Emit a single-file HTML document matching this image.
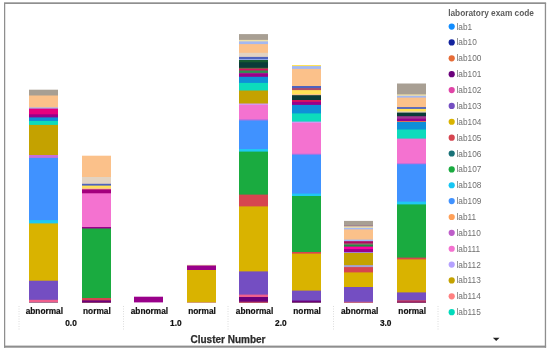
<!DOCTYPE html>
<html><head><meta charset="utf-8"><title>Cluster Number chart</title>
<style>
html,body{margin:0;padding:0;background:#fff;}
body{width:550px;height:351px;position:relative;overflow:hidden;font-family:"Liberation Sans",sans-serif;}
.frame{position:absolute;left:4px;top:2px;width:539.6px;height:341.8px;border-style:solid;border-color:#9a9a9a;border-width:1.9px 1.3px 2px 1.2px;box-sizing:content-box;}
svg{position:absolute;left:0;top:0;}
.li{position:absolute;left:456.5px;font-size:8.3px;line-height:11px;color:#707070;white-space:nowrap;}
.lt{position:absolute;left:448.2px;top:7.9px;font-size:8.3px;line-height:11px;font-weight:bold;color:#5c5c5c;white-space:nowrap;}
.cat{position:absolute;top:305.9px;width:60px;text-align:center;font-size:8.3px;line-height:11px;font-weight:bold;color:#111;-webkit-text-stroke:0.2px #111;white-space:nowrap;}
.grp{position:absolute;top:317.9px;width:60px;text-align:center;font-size:8.3px;line-height:11px;font-weight:bold;color:#111;-webkit-text-stroke:0.2px #111;white-space:nowrap;}
.ttl{position:absolute;left:128px;width:200px;text-align:center;top:332.6px;font-size:10px;line-height:13px;font-weight:bold;color:#2c2c2c;-webkit-text-stroke:0.25px #2c2c2c;white-space:nowrap;}
</style></head><body>
<svg width="550" height="351" viewBox="0 0 550 351">
<rect x="29.00" y="89.70" width="29.00" height="212.70" fill="#A89F93"/>
<rect x="29.00" y="95.50" width="29.00" height="206.90" fill="#FBC18A"/>
<rect x="29.00" y="107.40" width="29.00" height="195.00" fill="#A3B8F2"/>
<rect x="29.00" y="108.60" width="29.00" height="193.80" fill="#E6007E"/>
<rect x="29.00" y="114.30" width="29.00" height="188.10" fill="#99008A"/>
<rect x="29.00" y="117.40" width="29.00" height="185.00" fill="#0F8FD8"/>
<rect x="29.00" y="121.00" width="29.00" height="181.40" fill="#0DDBBC"/>
<rect x="29.00" y="124.90" width="29.00" height="177.50" fill="#C4A200"/>
<rect x="29.00" y="155.00" width="29.00" height="147.40" fill="#C66FDB"/>
<rect x="29.00" y="157.90" width="29.00" height="144.50" fill="#4092FF"/>
<rect x="29.00" y="220.10" width="29.00" height="82.30" fill="#1FC8F4"/>
<rect x="29.00" y="223.40" width="29.00" height="79.00" fill="#D9B300"/>
<rect x="29.00" y="280.70" width="29.00" height="21.70" fill="#744EC2"/>
<rect x="29.00" y="299.80" width="29.00" height="2.60" fill="#F0608C"/>
<rect x="82.00" y="155.70" width="29.00" height="146.70" fill="#FBC18A"/>
<rect x="82.00" y="177.00" width="29.00" height="125.40" fill="#E2D3C2"/>
<rect x="82.00" y="183.80" width="29.00" height="118.60" fill="#4E63BE"/>
<rect x="82.00" y="185.60" width="29.00" height="116.80" fill="#FFE256"/>
<rect x="82.00" y="187.80" width="29.00" height="114.60" fill="#FBC18A"/>
<rect x="82.00" y="189.30" width="29.00" height="113.10" fill="#A3007D"/>
<rect x="82.00" y="193.30" width="29.00" height="109.10" fill="#F472D0"/>
<rect x="82.00" y="227.00" width="29.00" height="75.40" fill="#99008A"/>
<rect x="82.00" y="228.50" width="29.00" height="73.90" fill="#1AAB40"/>
<rect x="82.00" y="298.00" width="29.00" height="4.40" fill="#D64550"/>
<rect x="82.00" y="300.40" width="29.00" height="2.00" fill="#6B007B"/>
<rect x="134.00" y="296.70" width="29.00" height="5.70" fill="#99008A"/>
<rect x="187.00" y="264.80" width="29.00" height="37.60" fill="#EFE0A8"/>
<rect x="187.00" y="265.50" width="29.00" height="36.90" fill="#99008A"/>
<rect x="187.00" y="270.00" width="29.00" height="32.40" fill="#D9B300"/>
<rect x="239.00" y="34.10" width="29.00" height="268.30" fill="#A89F93"/>
<rect x="239.00" y="39.90" width="29.00" height="262.50" fill="#EFE0A8"/>
<rect x="239.00" y="41.40" width="29.00" height="261.00" fill="#A3B8F2"/>
<rect x="239.00" y="44.10" width="29.00" height="258.30" fill="#FBC18A"/>
<rect x="239.00" y="52.80" width="29.00" height="249.60" fill="#E2D3C2"/>
<rect x="239.00" y="56.90" width="29.00" height="245.50" fill="#4E63BE"/>
<rect x="239.00" y="59.20" width="29.00" height="243.20" fill="#A3B8F2"/>
<rect x="239.00" y="60.00" width="29.00" height="242.40" fill="#165A30"/>
<rect x="239.00" y="62.30" width="29.00" height="240.10" fill="#0B3B38"/>
<rect x="239.00" y="67.80" width="29.00" height="234.60" fill="#6A7040"/>
<rect x="239.00" y="68.70" width="29.00" height="233.70" fill="#D8125F"/>
<rect x="239.00" y="70.50" width="29.00" height="231.90" fill="#2E9050"/>
<rect x="239.00" y="72.90" width="29.00" height="229.50" fill="#A03890"/>
<rect x="239.00" y="73.50" width="29.00" height="228.90" fill="#99008A"/>
<rect x="239.00" y="76.80" width="29.00" height="225.60" fill="#0F8FD8"/>
<rect x="239.00" y="82.90" width="29.00" height="219.50" fill="#0DDBBC"/>
<rect x="239.00" y="90.50" width="29.00" height="211.90" fill="#C4A200"/>
<rect x="239.00" y="103.50" width="29.00" height="198.90" fill="#D596F0"/>
<rect x="239.00" y="105.00" width="29.00" height="197.40" fill="#F472D0"/>
<rect x="239.00" y="119.00" width="29.00" height="183.40" fill="#C66FDB"/>
<rect x="239.00" y="120.40" width="29.00" height="182.00" fill="#4092FF"/>
<rect x="239.00" y="149.00" width="29.00" height="153.40" fill="#1FC8F4"/>
<rect x="239.00" y="151.60" width="29.00" height="150.80" fill="#1AAB40"/>
<rect x="239.00" y="194.60" width="29.00" height="107.80" fill="#D64550"/>
<rect x="239.00" y="206.40" width="29.00" height="96.00" fill="#D9B300"/>
<rect x="239.00" y="271.40" width="29.00" height="31.00" fill="#744EC2"/>
<rect x="239.00" y="294.60" width="29.00" height="7.80" fill="#F0608C"/>
<rect x="239.00" y="297.00" width="29.00" height="5.40" fill="#6B007B"/>
<rect x="239.00" y="301.80" width="29.00" height="0.60" fill="#F0704A"/>
<rect x="292.00" y="65.00" width="29.00" height="237.40" fill="#FFE256"/>
<rect x="292.00" y="66.10" width="29.00" height="236.30" fill="#A3B8F2"/>
<rect x="292.00" y="68.90" width="29.00" height="233.50" fill="#FBC18A"/>
<rect x="292.00" y="86.00" width="29.00" height="216.40" fill="#4E63BE"/>
<rect x="292.00" y="88.10" width="29.00" height="214.30" fill="#AE4C66"/>
<rect x="292.00" y="90.10" width="29.00" height="212.30" fill="#FFE256"/>
<rect x="292.00" y="94.10" width="29.00" height="208.30" fill="#FBC18A"/>
<rect x="292.00" y="95.20" width="29.00" height="207.20" fill="#0B3B38"/>
<rect x="292.00" y="100.00" width="29.00" height="202.40" fill="#D8125F"/>
<rect x="292.00" y="101.90" width="29.00" height="200.50" fill="#99008A"/>
<rect x="292.00" y="104.90" width="29.00" height="197.50" fill="#0F8FD8"/>
<rect x="292.00" y="113.40" width="29.00" height="189.00" fill="#0DDBBC"/>
<rect x="292.00" y="121.60" width="29.00" height="180.80" fill="#D596F0"/>
<rect x="292.00" y="123.00" width="29.00" height="179.40" fill="#F472D0"/>
<rect x="292.00" y="153.60" width="29.00" height="148.80" fill="#C66FDB"/>
<rect x="292.00" y="154.60" width="29.00" height="147.80" fill="#4092FF"/>
<rect x="292.00" y="193.60" width="29.00" height="108.80" fill="#1FC8F4"/>
<rect x="292.00" y="196.00" width="29.00" height="106.40" fill="#1AAB40"/>
<rect x="292.00" y="252.00" width="29.00" height="50.40" fill="#D64550"/>
<rect x="292.00" y="253.60" width="29.00" height="48.80" fill="#D9B300"/>
<rect x="292.00" y="290.60" width="29.00" height="11.80" fill="#744EC2"/>
<rect x="292.00" y="300.60" width="29.00" height="1.80" fill="#6B007B"/>
<rect x="344.00" y="220.90" width="29.00" height="81.50" fill="#A89F93"/>
<rect x="344.00" y="225.20" width="29.00" height="77.20" fill="#A08090"/>
<rect x="344.00" y="226.40" width="29.00" height="76.00" fill="#EFE0A8"/>
<rect x="344.00" y="227.80" width="29.00" height="74.60" fill="#A3B8F2"/>
<rect x="344.00" y="229.40" width="29.00" height="73.00" fill="#FBC18A"/>
<rect x="344.00" y="239.60" width="29.00" height="62.80" fill="#A3B8F2"/>
<rect x="344.00" y="241.20" width="29.00" height="61.20" fill="#B00860"/>
<rect x="344.00" y="243.40" width="29.00" height="59.00" fill="#907070"/>
<rect x="344.00" y="244.70" width="29.00" height="57.70" fill="#1A9040"/>
<rect x="344.00" y="246.60" width="29.00" height="55.80" fill="#FF00A0"/>
<rect x="344.00" y="249.10" width="29.00" height="53.30" fill="#99008A"/>
<rect x="344.00" y="252.30" width="29.00" height="50.10" fill="#A3B8F2"/>
<rect x="344.00" y="253.00" width="29.00" height="49.40" fill="#C4A200"/>
<rect x="344.00" y="265.10" width="29.00" height="37.30" fill="#A4A4D2"/>
<rect x="344.00" y="267.10" width="29.00" height="35.30" fill="#D64550"/>
<rect x="344.00" y="272.40" width="29.00" height="30.00" fill="#D9B300"/>
<rect x="344.00" y="287.00" width="29.00" height="15.40" fill="#744EC2"/>
<rect x="344.00" y="301.80" width="29.00" height="0.60" fill="#F0608C"/>
<rect x="397.00" y="83.50" width="29.00" height="218.90" fill="#A89F93"/>
<rect x="397.00" y="94.40" width="29.00" height="208.00" fill="#EFE0A8"/>
<rect x="397.00" y="95.80" width="29.00" height="206.60" fill="#A3B8F2"/>
<rect x="397.00" y="97.60" width="29.00" height="204.80" fill="#FBC18A"/>
<rect x="397.00" y="107.10" width="29.00" height="195.30" fill="#4E63BE"/>
<rect x="397.00" y="108.90" width="29.00" height="193.50" fill="#FFE256"/>
<rect x="397.00" y="111.40" width="29.00" height="191.00" fill="#E2D3C2"/>
<rect x="397.00" y="112.60" width="29.00" height="189.80" fill="#0B3B38"/>
<rect x="397.00" y="116.20" width="29.00" height="186.20" fill="#A03890"/>
<rect x="397.00" y="118.70" width="29.00" height="183.70" fill="#99008A"/>
<rect x="397.00" y="121.00" width="29.00" height="181.40" fill="#F0704A"/>
<rect x="397.00" y="121.90" width="29.00" height="180.50" fill="#0F8FD8"/>
<rect x="397.00" y="129.50" width="29.00" height="172.90" fill="#0DDBBC"/>
<rect x="397.00" y="138.60" width="29.00" height="163.80" fill="#F472D0"/>
<rect x="397.00" y="163.00" width="29.00" height="139.40" fill="#C66FDB"/>
<rect x="397.00" y="164.20" width="29.00" height="138.20" fill="#4092FF"/>
<rect x="397.00" y="201.60" width="29.00" height="100.80" fill="#1FC8F4"/>
<rect x="397.00" y="204.40" width="29.00" height="98.00" fill="#1AAB40"/>
<rect x="397.00" y="257.60" width="29.00" height="44.80" fill="#D64550"/>
<rect x="397.00" y="259.40" width="29.00" height="43.00" fill="#D9B300"/>
<rect x="397.00" y="292.40" width="29.00" height="10.00" fill="#744EC2"/>
<rect x="397.00" y="300.40" width="29.00" height="2.00" fill="#D64550"/>
<rect x="397.00" y="301.60" width="29.00" height="0.80" fill="#6B007B"/>
<rect x="4" y="2" width="542.1" height="1" fill="#b0b0b0"/>
<rect x="4" y="3" width="542.1" height="0.9" fill="#838383"/>
<rect x="4" y="345.6" width="542.1" height="2.1" fill="#8e8e8e"/>
<rect x="4" y="3" width="1.25" height="344.7" fill="#8e8e8e"/>
<rect x="544.8" y="3" width="1.3" height="344.7" fill="#8e8e8e"/>
<line x1="19" y1="306" x2="19" y2="331" stroke="#dcdcdc" stroke-width="1" stroke-dasharray="1 1.5"/>
<line x1="123.5" y1="306" x2="123.5" y2="331" stroke="#dcdcdc" stroke-width="1" stroke-dasharray="1 1.5"/>
<line x1="228" y1="306" x2="228" y2="331" stroke="#dcdcdc" stroke-width="1" stroke-dasharray="1 1.5"/>
<line x1="333.5" y1="306" x2="333.5" y2="331" stroke="#dcdcdc" stroke-width="1" stroke-dasharray="1 1.5"/>
<line x1="438" y1="306" x2="438" y2="331" stroke="#dcdcdc" stroke-width="1" stroke-dasharray="1 1.5"/>
<polygon points="492.9,337.7 499.5,337.7 496.2,340.9" fill="#222"/>
<circle cx="451.7" cy="26.55" r="3.1" fill="#118DFF"/>
<circle cx="451.7" cy="42.42" r="3.1" fill="#12239E"/>
<circle cx="451.7" cy="58.29" r="3.1" fill="#E66C37"/>
<circle cx="451.7" cy="74.16" r="3.1" fill="#6B007B"/>
<circle cx="451.7" cy="90.03" r="3.1" fill="#E044A7"/>
<circle cx="451.7" cy="105.90" r="3.1" fill="#744EC2"/>
<circle cx="451.7" cy="121.77" r="3.1" fill="#D9B300"/>
<circle cx="451.7" cy="137.64" r="3.1" fill="#D64550"/>
<circle cx="451.7" cy="153.51" r="3.1" fill="#197278"/>
<circle cx="451.7" cy="169.38" r="3.1" fill="#1AAB40"/>
<circle cx="451.7" cy="185.25" r="3.1" fill="#15C6F4"/>
<circle cx="451.7" cy="201.12" r="3.1" fill="#4092FF"/>
<circle cx="451.7" cy="216.99" r="3.1" fill="#FFA058"/>
<circle cx="451.7" cy="232.86" r="3.1" fill="#BE5DC9"/>
<circle cx="451.7" cy="248.73" r="3.1" fill="#F472D0"/>
<circle cx="451.7" cy="264.60" r="3.1" fill="#B5A1FF"/>
<circle cx="451.7" cy="280.47" r="3.1" fill="#C4A200"/>
<circle cx="451.7" cy="296.34" r="3.1" fill="#FF8080"/>
<circle cx="451.7" cy="312.21" r="3.1" fill="#00DBBC"/>
</svg>
<div class="lt">laboratory exam code</div>
<div class="li" style="top:21.55px">lab1</div>
<div class="li" style="top:37.42px">lab10</div>
<div class="li" style="top:53.29px">lab100</div>
<div class="li" style="top:69.16px">lab101</div>
<div class="li" style="top:85.03px">lab102</div>
<div class="li" style="top:100.90px">lab103</div>
<div class="li" style="top:116.77px">lab104</div>
<div class="li" style="top:132.64px">lab105</div>
<div class="li" style="top:148.51px">lab106</div>
<div class="li" style="top:164.38px">lab107</div>
<div class="li" style="top:180.25px">lab108</div>
<div class="li" style="top:196.12px">lab109</div>
<div class="li" style="top:211.99px">lab11</div>
<div class="li" style="top:227.86px">lab110</div>
<div class="li" style="top:243.73px">lab111</div>
<div class="li" style="top:259.60px">lab112</div>
<div class="li" style="top:275.47px">lab113</div>
<div class="li" style="top:291.34px">lab114</div>
<div class="li" style="top:307.21px">lab115</div>
<div class="cat" style="left:14.35px">abnormal</div>
<div class="cat" style="left:66.90px">normal</div>
<div class="cat" style="left:119.45px">abnormal</div>
<div class="cat" style="left:172.00px">normal</div>
<div class="cat" style="left:224.55px">abnormal</div>
<div class="cat" style="left:277.10px">normal</div>
<div class="cat" style="left:329.65px">abnormal</div>
<div class="cat" style="left:382.20px">normal</div>
<div class="grp" style="left:41.00px">0.0</div>
<div class="grp" style="left:145.90px">1.0</div>
<div class="grp" style="left:250.80px">2.0</div>
<div class="grp" style="left:355.70px">3.0</div>
<div class="ttl">Cluster Number</div>
</body></html>
